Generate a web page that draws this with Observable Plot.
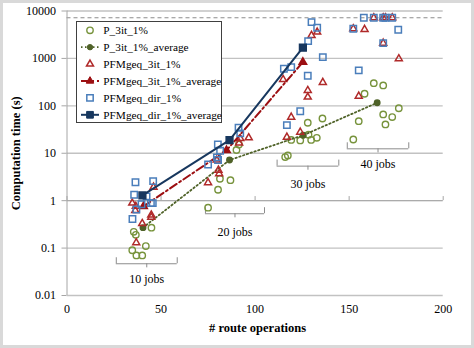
<!DOCTYPE html>
<html><head><meta charset="utf-8">
<script src="https://cdn.jsdelivr.net/npm/d3@7"></script>
<script src="https://cdn.jsdelivr.net/npm/@observablehq/plot@0.6"></script>
<style>
body{margin:0;background:#fff;}
#wrap{position:relative;width:474px;height:348px;overflow:hidden;background:#fff;}
#frame{position:absolute;left:0;top:0;width:474px;height:348px;box-sizing:border-box;border:3px solid #d9d9d9;pointer-events:none;}
#legend{position:absolute;left:76px;top:21px;}
</style></head><body>
<div id="wrap"><div id="chart"></div><svg id="legend" width="146" height="102"></svg><div id="frame"></div></div>
<script>
// ---- data ----
const seriesNames = ["P_3it_1%","P_3it_1%_average","PFMgeq_3it_1%","PFMgeq_3it_1%_average","PFMgeq_dir_1%","PFMgeq_dir_1%_average"];

// P_3it_1%
const p3itX = [35.5,36.6,44.9,34.7,36.9,40.0,41.9, 91.4,90.1,81.3,86.9,80.3,75.0, 128.0,135.8,119.2,124.0,129.8,132.8,128.4,116.0,117.4, 163.1,168.1,158.2,176.4,168.1,172.9,155.1,169.3,152.2];
const p3itY = [0.22,0.19,0.27,0.09,0.07,0.07,0.11, 15.3,11.7,2.9,2.7,1.7,0.71, 44,54,19.1,18.6,19.1,21.2,24.6,8.3,9.0, 301,269,180,89,66,58,47.5,40.5,19.5];
// P_3it_1%_average
const p3itAvgX = [40.4,86.4,125.6,164.9];
const p3itAvgY = [0.27,7.2,24,116];

// PFMgeq_3it_1%
const f3itX = [46.0,34.7,36.6,36.3,44.8,44.8,40.0,36.8, 92.1,91.5,96.6,79.6,80.5,80.9,75.0, 130.0,133.0,114.9,136.0,128.0,128.0,119.2,124.0,116.9, 152.2,158.2,163.1,168.1,169.3,172.9,168.1,176.4,155.1];
const f3itY = [1.93,0.89,0.76,0.62,0.50,0.45,0.33,0.13, 20.5,16.5,21.2,7.2,4.4,3.7,2.4, 3060,3590,360,312,211,153,57.8,27.9,21.9, 4230,4090,7200,7200,7200,7200,2100,986,160];
// PFMgeq_3it_1%_average
const f3itAvgX = [40.7,84.8,125.4];
const f3itAvgY = [0.76,11.5,836];

// PFMgeq_dir_1%
const fdirX = [36.4,45.8,35.7,42.3,39.6,44.6,45.6,36.9,34.8, 75.0,80.2,80.3,79.7,81.4,91.2,92.1, 130.0,133.0,128.2,136.0,115.3,119.2,128.0,124.0,116.9, 157.8,163.1,168.1,169.3,172.9,152.2,176.1,168.1,155.1];
const fdirY = [2.45,2.58,1.33,1.23,0.84,0.89,0.89,0.65,0.41, 5.8,15.3,7.2,8.2,11.3,34.5,26.2, 5830,4440,2320,1065,606,655,432,77,39.2, 7200,7200,7200,7200,7200,4230,4030,2100,558];
// PFMgeq_dir_1%_average
const fdirAvgX = [40.1,86.4,125.4];
const fdirAvgY = [1.29,18.9,1680];

const timeout = [7200];

// axes
const xTicks = [0,50,100,150,200];
const xTickLabels = ["0","50","100","150","200"];
const yTicks = [0.01,0.1,1,10,100,1000,10000];
const yTickLabels = ["0.01","0.1","1","10","100","1000","10000"];
const xTitle = "# route operations";
const yTitle = "Computation time (s)";

// job-group brackets
const jobLabels = ["10 jobs","20 jobs","30 jobs","40 jobs"];
const bracketX1 = [26.2, 73.6, 111.7, 149.0];
const bracketX2 = [58.6, 105.0, 144.5, 181.7];
const bracketY = [0.0467, 0.53, 5.35, 12.4];
const labelY = [0.0225, 0.216, 2.27, 5.8];

// ---- styles ----
const cGreen = "#77933c", cGreenDark = "#4f6228";
const cRed = "#b02a2a", cRedDark = "#9c0f12";
const cBlue = "#4a7ebb", cBlueDark = "#17375e";
const font = "'Liberation Serif', 'Times New Roman', serif";

const idx = a => d3.range(a.length);
const pts = (X, Y) => X.map((x, i) => ({x, y: Y[i]}));

const chart = Plot.plot({
  width: 474, height: 348,
  marginLeft: 66.5, marginRight: 31.3, marginTop: 10.5, marginBottom: 53,
  style: {background: "white", fontFamily: font, fontSize: "12px", color: "black"},
  x: {domain: [0, 200], ticks: xTicks, tickFormat: d => xTickLabels[xTicks.indexOf(d)], tickSize: 0, tickPadding: 9, label: null},
  y: {type: "log", domain: [0.01, 10000], ticks: yTicks, tickFormat: d => yTickLabels[yTicks.indexOf(d)], tickSize: 5, tickPadding: 6, label: null},
  marks: [
    Plot.ruleY(yTicks, {stroke: "#c2c2c2", strokeWidth: 1.4}),
    Plot.ruleY(timeout, {stroke: "#8c8c8c", strokeDasharray: "4,3", strokeWidth: 1}),
    Plot.ruleX([0], {stroke: "#a6a6a6"}),
    Plot.ruleY([1], {stroke: "#a6a6a6"}),
    Plot.ruleX(xTicks, {x: d => d, y1: 1, y2: 1.22, stroke: "#a6a6a6"}),
    // brackets
    Plot.ruleY(idx(jobLabels), {y: i => bracketY[i], x1: i => bracketX1[i], x2: i => bracketX2[i], stroke: "#8c8c8c"}),
    Plot.ruleX(idx(jobLabels), {x: i => bracketX1[i], y1: i => bracketY[i], y2: i => bracketY[i] * 1.34, stroke: "#8c8c8c"}),
    Plot.ruleX(idx(jobLabels), {x: i => bracketX2[i], y1: i => bracketY[i], y2: i => bracketY[i] * 1.34, stroke: "#8c8c8c"}),
    Plot.ruleX(idx(jobLabels), {x: i => (bracketX1[i] + bracketX2[i]) / 2, y1: i => bracketY[i], y2: i => bracketY[i] * 0.82, stroke: "#8c8c8c"}),
    Plot.text(idx(jobLabels), {x: i => (bracketX1[i] + bracketX2[i]) / 2, y: i => labelY[i], text: i => jobLabels[i], fontSize: 12, lineAnchor: "middle", fill: "black"}),
    // P_3it
    Plot.dot(pts(p3itX, p3itY), {x: "x", y: "y", r: 3.2, stroke: cGreen, strokeWidth: 1.4, fill: "none"}),
    Plot.line(pts(p3itAvgX, p3itAvgY), {x: "x", y: "y", stroke: cGreenDark, strokeWidth: 1.8, strokeDasharray: "1.5,2.5"}),
    Plot.dot(pts(p3itAvgX, p3itAvgY), {x: "x", y: "y", r: 2.7, fill: cGreenDark, stroke: cGreenDark}),
    // PFMgeq_3it
    Plot.dot(pts(f3itX, f3itY), {x: "x", y: "y", r: 2.6, symbol: "triangle", stroke: cRed, strokeWidth: 1.5, fill: "none"}),
    Plot.line(pts(f3itAvgX, f3itAvgY), {x: "x", y: "y", stroke: cRedDark, strokeWidth: 2, strokeDasharray: "8,3,2,3"}),
    Plot.dot(pts(f3itAvgX, f3itAvgY), {x: "x", y: "y", r: 2.8, symbol: "triangle", fill: cRedDark, stroke: cRedDark}),
    // PFMgeq_dir
    Plot.dot(pts(fdirX, fdirY), {x: "x", y: "y", r: 3.6, symbol: "square", stroke: cBlue, strokeWidth: 1.5, fill: "none"}),
    Plot.line(pts(fdirAvgX, fdirAvgY), {x: "x", y: "y", stroke: cBlueDark, strokeWidth: 2}),
    Plot.dot(pts(fdirAvgX, fdirAvgY), {x: "x", y: "y", r: 3.8, symbol: "square", fill: cBlueDark, stroke: cBlueDark}),
    // titles
    Plot.text([xTitle], {frameAnchor: "bottom", dy: 32, dx: 2.5, text: d => d, fontWeight: "bold", fontSize: 12.5, lineAnchor: "middle", fill: "black"}),
    Plot.text([yTitle], {frameAnchor: "left", dx: -51.5, rotate: -90, textAnchor: "middle", text: d => d, fontWeight: "bold", fontSize: 12.5, lineAnchor: "middle", fill: "black"})
  ]
});
document.getElementById("chart").append(chart);
d3.select(chart).selectAll('g[aria-label="y-axis tick"]').attr("stroke", "#a6a6a6");

// ---- legend ----
const lg = d3.select("#legend");
lg.append("rect").attr("x", 0.5).attr("y", 0.5).attr("width", 145).attr("height", 101)
  .attr("fill", "white").attr("stroke", "#404040");
const legendStyle = [
  {sym: d3.symbolCircle, r: 3.2, sw: 1.4, stroke: cGreen, fill: "none", line: null},
  {sym: d3.symbolCircle, r: 2.7, sw: 1, stroke: cGreenDark, fill: cGreenDark, line: {stroke: cGreenDark, w: 1.8, dash: "1.5,2.5"}},
  {sym: d3.symbolTriangle, r: 2.6, sw: 1.5, stroke: cRed, fill: "none", line: null},
  {sym: d3.symbolTriangle, r: 2.8, sw: 1, stroke: cRedDark, fill: cRedDark, line: {stroke: cRedDark, w: 2, dash: "8,3,2,3"}},
  {sym: d3.symbolSquare, r: 3.6, sw: 1.5, stroke: cBlue, fill: "none", line: null},
  {sym: d3.symbolSquare, r: 3.8, sw: 1, stroke: cBlueDark, fill: cBlueDark, line: {stroke: cBlueDark, w: 2, dash: null}}
];
seriesNames.forEach((name, i) => {
  const s = legendStyle[i];
  const cy = 9.3 + i * 16.9;
  if (s.line) {
    lg.append("line").attr("x1", 5).attr("x2", 23).attr("y1", cy).attr("y2", cy)
      .attr("stroke", s.line.stroke).attr("stroke-width", s.line.w)
      .attr("stroke-dasharray", s.line.dash);
  }
  lg.append("path").attr("d", d3.symbol(s.sym, Math.PI * s.r * s.r)())
    .attr("transform", `translate(14,${cy})`)
    .attr("fill", s.fill).attr("stroke", s.stroke).attr("stroke-width", s.sw);
  lg.append("text").attr("x", 27.3).attr("y", cy).attr("dy", "0.35em")
    .attr("font-family", font).attr("font-size", 11.3).attr("fill", "black").text(name);
});
</script>
</body></html>
